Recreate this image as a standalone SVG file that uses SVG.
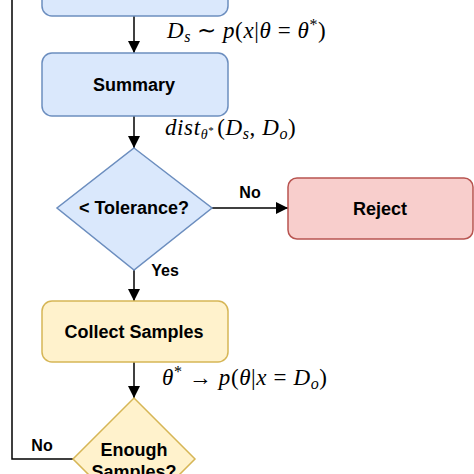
<svg xmlns="http://www.w3.org/2000/svg" width="474" height="474" viewBox="0 0 474 474">
<defs>
<marker id="arr" viewBox="0 0 12 12" refX="12" refY="6" markerWidth="12" markerHeight="12" markerUnits="userSpaceOnUse" orient="auto">
<path d="M0,0 L12,6 L0,12 Z" fill="#000"/>
</marker>
<style>
.blue{fill:#dae8fc;stroke:#6c8ebf;stroke-width:1.5}
.red{fill:#f8cecc;stroke:#b85450;stroke-width:1.5}
.yel{fill:#fff2cc;stroke:#d6b656;stroke-width:1.5}
.lbl{font-family:"Liberation Sans",Arial,sans-serif;font-weight:bold;font-size:18px;fill:#000;text-anchor:middle;dominant-baseline:central}
.math{font-family:"Liberation Serif","Times New Roman",serif;font-style:italic;font-size:23px;letter-spacing:0.6px;fill:#000}
.up{font-style:normal}
.conn{fill:none;stroke:#000;stroke-width:1.5}
</style>
</defs>
<rect width="474" height="474" fill="#fff"/>
<g id="connectors">
<line class="conn" x1="134" y1="16" x2="134" y2="53" marker-end="url(#arr)"/>
<line class="conn" x1="134" y1="116" x2="134" y2="148" marker-end="url(#arr)"/>
<line class="conn" x1="212" y1="208" x2="288" y2="208" marker-end="url(#arr)"/>
<line class="conn" x1="134" y1="270" x2="134" y2="301" marker-end="url(#arr)"/>
<line class="conn" x1="134" y1="362" x2="134" y2="398" marker-end="url(#arr)"/>
<polyline class="conn" points="73,459 12,459 12,-2"/>
<text class="math" x="167" y="38">D<tspan font-size="16" dy="4">s</tspan><tspan class="up" dy="-4" dx="6">∼ </tspan>p<tspan class="up">(</tspan>x<tspan class="up">|</tspan>θ<tspan class="up"> = </tspan>θ<tspan class="up" font-size="16" dy="-8">*</tspan><tspan class="up" dy="8">)</tspan></text>
<text class="math" x="165" y="135">dist<tspan font-size="14" dy="4">θ</tspan><tspan class="up" font-size="11" dy="-5">*</tspan><tspan class="up" dx="3" dy="1">(</tspan>D<tspan font-size="16" dy="4">s</tspan><tspan class="up" dy="-4">, </tspan>D<tspan font-size="16" dy="4">o</tspan><tspan class="up" dy="-4">)</tspan></text>
<text class="math" x="162" y="385">θ<tspan class="up" font-size="16" dy="-8">*</tspan><tspan class="up" dy="8"> → </tspan>p<tspan class="up">(</tspan>θ<tspan class="up">|</tspan>x<tspan class="up"> = </tspan>D<tspan font-size="16" dy="4">o</tspan><tspan class="up" dy="-4">)</tspan></text>
<text class="lbl" x="250" y="192" style="font-size:16px">No</text>
<text class="lbl" x="165" y="270" style="font-size:16px">Yes</text>
<text class="lbl" x="42" y="445" style="font-size:16px">No</text>
</g>
<g id="node-top">
<rect class="blue" x="42" y="-40" width="186" height="56" rx="10"/>
</g>
<g id="node-summary">
<rect class="blue" x="42" y="53" width="186" height="63" rx="10"/>
<text class="lbl" x="134" y="85">Summary</text>
</g>
<g id="node-tolerance">
<polygon class="blue" points="134,148 212,208 134,270 57,208"/>
<text class="lbl" x="134" y="208">&lt; Tolerance?</text>
</g>
<g id="node-reject">
<rect class="red" x="288" y="178" width="185" height="61" rx="9"/>
<text class="lbl" x="380" y="209">Reject</text>
</g>
<g id="node-collect">
<rect class="yel" x="42" y="301" width="186" height="61" rx="10"/>
<text class="lbl" x="134" y="332">Collect Samples</text>
</g>
<g id="node-enough">
<polygon class="yel" points="134,398 195,459 134,520 73,459"/>
<text class="lbl" x="134" y="450">Enough</text>
<text class="lbl" x="134" y="472">Samples?</text>
</g>
</svg>
